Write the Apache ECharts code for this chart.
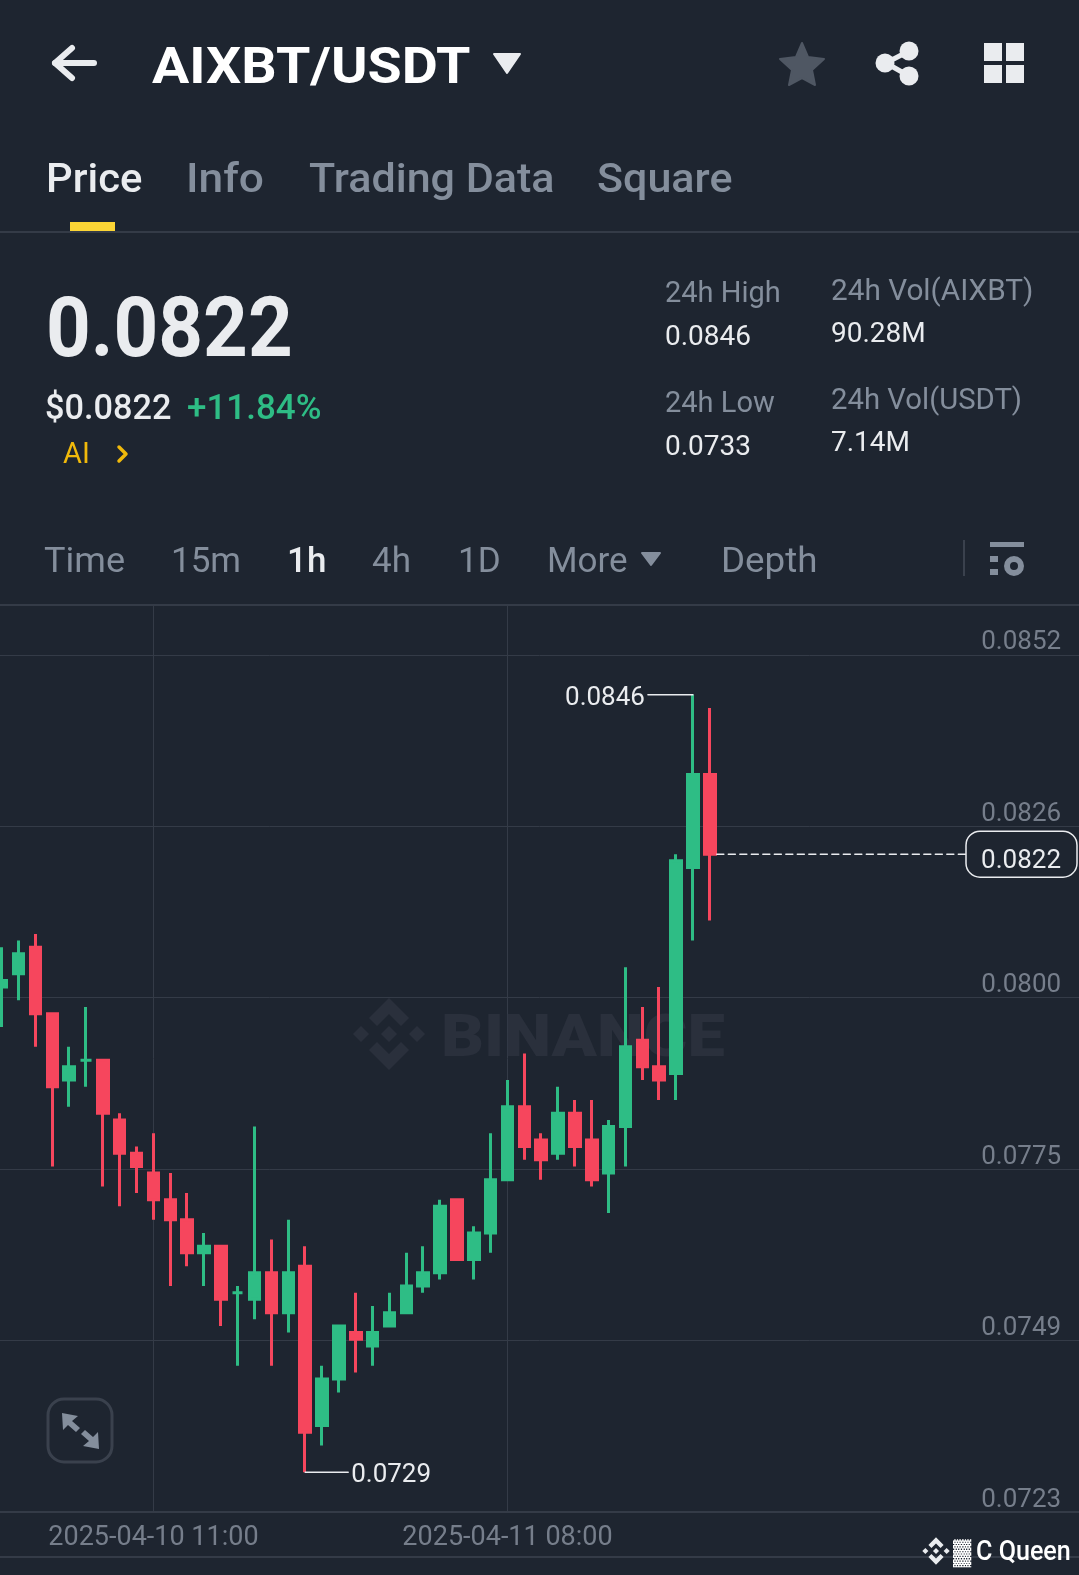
<!DOCTYPE html>
<html>
<head>
<meta charset="utf-8">
<title>AIXBT/USDT</title>
<style type="text/css">
    *{ margin:0; padding:0; }
    html,body{ width:1079px; height:1575px; background:#1e2530; overflow:hidden; }
    #main{ width:1079px; height:1575px; }
</style>
</head>
<body>
<div id="main"></div>
<script src="https://cdn.jsdelivr.net/npm/echarts@6/dist/echarts.min.js"></script>
<script type="text/javascript">
    // hourly candles, 4 decimal prices
    var categories = [
        '2025-04-10 02:00','2025-04-10 03:00','2025-04-10 04:00','2025-04-10 05:00','2025-04-10 06:00',
        '2025-04-10 07:00','2025-04-10 08:00','2025-04-10 09:00','2025-04-10 10:00','2025-04-10 11:00',
        '2025-04-10 12:00','2025-04-10 13:00','2025-04-10 14:00','2025-04-10 15:00','2025-04-10 16:00',
        '2025-04-10 17:00','2025-04-10 18:00','2025-04-10 19:00','2025-04-10 20:00','2025-04-10 21:00',
        '2025-04-10 22:00','2025-04-10 23:00','2025-04-11 00:00','2025-04-11 01:00','2025-04-11 02:00',
        '2025-04-11 03:00','2025-04-11 04:00','2025-04-11 05:00','2025-04-11 06:00','2025-04-11 07:00',
        '2025-04-11 08:00','2025-04-11 09:00','2025-04-11 10:00','2025-04-11 11:00','2025-04-11 12:00',
        '2025-04-11 13:00','2025-04-11 14:00','2025-04-11 15:00','2025-04-11 16:00','2025-04-11 17:00',
        '2025-04-11 18:00','2025-04-11 19:00','2025-04-11 20:00'
    ];
    var opens = [0.0802,0.0804,0.0808,0.0798,0.0788,0.0791,0.0791,0.0782,0.0777,0.0774,0.0770,0.0767,0.0762,0.0763,0.0756,
        0.0755,0.0759,0.0753,0.0760,0.0736,0.0743,0.0750,0.0748,0.0751,0.0753,0.0757,0.0759,0.0770,0.0761,0.0765,
        0.0773,0.0784,0.0779,0.0777,0.0783,0.0779,0.0774,0.0781,0.0794,0.0790,0.0789,0.0820,0.0834];
    var closes = [0.0803,0.0807,0.0798,0.0787,0.0790,0.0791,0.0783,0.0777,0.0775,0.0770,0.0767,0.0762,0.0763,0.0755,0.0756,
        0.0759,0.0753,0.0759,0.0735,0.0743,0.0751,0.0749,0.0750,0.0753,0.0757,0.0759,0.0769,0.0761,0.0765,0.0773,
        0.0784,0.0778,0.0776,0.0783,0.0778,0.0773,0.0781,0.0793,0.0790,0.0788,0.0821,0.0834,0.0822];
    var lows = [0.0796,0.0800,0.0793,0.0775,0.0784,0.0787,0.0772,0.0769,0.0771,0.0767,0.0757,0.0760,0.0757,0.0751,0.0745,
        0.0752,0.0745,0.0750,0.0729,0.0733,0.0741,0.0744,0.0745,0.0751,0.0753,0.0756,0.0758,0.0761,0.0758,0.0762,
        0.0773,0.0776,0.0773,0.0776,0.0775,0.0772,0.0768,0.0775,0.0788,0.0785,0.0785,0.0809,0.0812];
    var highs = [0.0808,0.0809,0.0810,0.0798,0.0793,0.0799,0.0791,0.0783,0.0778,0.0780,0.0774,0.0771,0.0765,0.0763,0.0757,
        0.0781,0.0764,0.0767,0.0763,0.0745,0.0751,0.0756,0.0754,0.0756,0.0762,0.0763,0.0770,0.0770,0.0766,0.0780,
        0.0788,0.0792,0.0780,0.0787,0.0785,0.0785,0.0782,0.0805,0.0799,0.0802,0.0822,0.0846,0.0844];
    var yTicks = [0.0723,0.07488,0.07746,0.08004,0.08262,0.0852];
    var xLabelIndex = [9,30];
    var lastPrice = 0.0822, highPrice = 0.0846, lowPrice = 0.0729;
    var highIndex = 41, lowIndex = 18, lastIndex = 42;

    var slots = categories.slice();
    while(slots.length < 65){ slots.push(''); }

    var candles = [];
    for(var i = 0; i < opens.length; i++){
        candles.push([opens[i], closes[i], lows[i], highs[i]]);
    }

    var BG = '#1e2530', GRID = '#343b47', GREY = '#848e9c', TICK = '#767e8b', WHITE = '#eaecef',
        GREEN = '#2ebd85', RED = '#f6465d', YELLOW = '#fcd535';
    var FONT = 'Roboto, sans-serif';

    function txt(s, x, base, size, color, weight, sx, align){
        return {
            type:'text', x:x, y:base - size*0.25, scaleX:sx||1, silent:true, z:10,
            style:{ text:s, fill:color, font:(weight||400)+' '+size+'px '+FONT,
                    textAlign:align||'left', textVerticalAlign:'middle' }
        };
    }
    function poly(points, fill, z){
        return { type:'polygon', silent:true, z:z||10, shape:{points:points}, style:{fill:fill} };
    }
    function stroke(points, color, w, z, dash){
        return { type:'polyline', silent:true, z:z||10, shape:{points:points},
                 style:{stroke:color, lineWidth:w, fill:'none', lineCap:'round', lineJoin:'round', lineDash:dash||null} };
    }
    function box(x, y, w, h, fill, r){
        return { type:'rect', silent:true, z:10, shape:{x:x,y:y,width:w,height:h,r:r||0}, style:{fill:fill} };
    }
    // binance diamond mark
    function logo(cx, cy, s, color, z){
        var shapes = [
            [[0,-8],[8,0],[0,8],[-8,0]],
            [[-36,0],[-28,-8],[-20,0],[-28,8]],
            [[36,0],[28,-8],[20,0],[28,8]],
            [[0,-36],[20,-16],[12,-8],[0,-20],[-12,-8],[-20,-16]],
            [[0,36],[20,16],[12,8],[0,20],[-12,8],[-20,16]]
        ];
        return shapes.map(function(p){
            return poly(p.map(function(q){ return [cx+q[0]*s, cy+q[1]*s]; }), color, z);
        });
    }

    var ui = [
        // header
        stroke([[94,63],[55,63]], WHITE, 6),
        stroke([[72,48],[55,63],[72,78]], WHITE, 6),
        txt('AIXBT/USDT', 152, 83, 50, '#ffffff', 700, 1.11),
        { type:'polygon', silent:true, z:10, shape:{points:[[494,54],[520,54],[507,73]]}, style:{fill:WHITE, stroke:WHITE, lineWidth:2, lineJoin:'round'} },
        { type:'polygon', silent:true, z:10, shape:{points:[[802,43],[808,57],[824,59],[812,70],[815,85],[802,78],[789,85],[792,70],[780,59],[796,57]]}, style:{fill:'#4f5763', stroke:'#4f5763', lineWidth:2, lineJoin:'round'} },
        stroke([[909,51],[886,63],[909,76]], WHITE, 5),
        { type:'circle', silent:true, z:10, shape:{cx:909,cy:51,r:9.5}, style:{fill:WHITE} },
        { type:'circle', silent:true, z:10, shape:{cx:885,cy:63,r:9.5}, style:{fill:WHITE} },
        { type:'circle', silent:true, z:10, shape:{cx:909,cy:76,r:9.5}, style:{fill:WHITE} },
        box(984,43,18,18,WHITE), box(1006,43,18,18,WHITE), box(984,65,18,18,WHITE), box(1006,65,18,18,WHITE),
        // tabs
        txt('Price', 46, 192, 41, WHITE, 500, 1.02),
        txt('Info', 186, 192, 41, GREY, 500, 1.08),
        txt('Trading Data', 309, 192, 41, GREY, 500, 1.05),
        txt('Square', 597, 192, 41, GREY, 500, 1.05),
        box(70,222,45,9,YELLOW),
        box(0,231,1079,2,GRID),
        // price block
        txt('0.0822', 46, 356, 84, WHITE, 700, 0.93),
        txt('$0.0822', 45, 419, 35, WHITE, 500, 0.98),
        txt('+11.84%', 187, 419, 35, GREEN, 500),
        txt('AI', 63, 463, 29, '#f0b90b', 400),
        stroke([[119,447],[126,454],[119,461]], '#f0b90b', 3.5),
        txt('24h High', 665, 302, 29, GREY),
        txt('0.0846', 665, 345, 28, WHITE),
        txt('24h Low', 665, 412, 29, GREY),
        txt('0.0733', 665, 455, 28, WHITE),
        txt('24h Vol(AIXBT)', 831, 300, 29, GREY, 400, 1.025),
        txt('90.28M', 831, 342, 28, WHITE),
        txt('24h Vol(USDT)', 831, 409, 29, GREY, 400, 1.01),
        txt('7.14M', 831, 451, 28, WHITE),
        // timeframe row
        txt('Time', 44, 572, 35, GREY, 400, 1.03),
        txt('15m', 171, 572, 35, GREY),
        txt('1h', 287, 572, 35, WHITE, 500),
        txt('4h', 372, 572, 35, GREY),
        txt('1D', 458, 572, 35, GREY),
        txt('More', 547, 572, 35, GREY),
        { type:'polygon', silent:true, z:10, shape:{points:[[642,553],[660,553],[651,565]]}, style:{fill:GREY, stroke:GREY, lineWidth:2, lineJoin:'round'} },
        txt('Depth', 721, 572, 35, GREY, 400, 1.05),
        box(963,540,2,36,'#3a414d'),
        box(990,542,34,5,GREY), box(990,556,8,6,GREY), box(990,569,8,6,GREY),
        { type:'circle', silent:true, z:10, shape:{cx:1014,cy:566,r:7}, style:{fill:'none', stroke:GREY, lineWidth:6} },
        box(0,604,1079,2,GRID),
        box(0,1556,1079,2,GRID),
        // expand button
        { type:'rect', silent:true, z:10, shape:{x:48,y:1399,width:64,height:63,r:16}, style:{fill:'none', stroke:'#3a414d', lineWidth:3} },
        poly([[62,1413],[78,1416],[72,1421],[80,1428],[76,1432],[68,1425],[63,1430]], GREY),
        poly([[99,1449],[83,1446],[89,1441],[81,1434],[85,1430],[93,1437],[98,1432]], GREY),
        // watermark on top of the picture
        txt('C Queen', 976, 1560, 27, '#ffffff', 500, 0.93),
        txt('\u2593', 953, 1560, 25, '#ffffff', 400)
    ];
    ui = ui.concat(logo(936, 1551, 0.38, WHITE));
    // big watermark, under the candles
    ui = ui.concat(logo(389, 1034, 1, '#2a303c', 1));
    ui.push({ type:'text', silent:true, z:1, x:441, y:1041, scaleX:1.13,
        style:{ text:'BINANCE', fill:'#2a303c', font:'900 59px '+FONT, textVerticalAlign:'middle' } });

    var myChart = echarts.init(document.getElementById('main'));

    function isLabelled(index){ return xLabelIndex.indexOf(index) >= 0; }

    var option = {
        backgroundColor:BG,
        animation:false,
        grid:{ left:-6.73, top:605, width:1095.9, height:907, outerBoundsMode:'none' },
        xAxis:{
            type:'category',
            data:slots,
            boundaryGap:true,
            axisLine:{ lineStyle:{ color:GRID, width:2 } },
            axisTick:{ show:false },
            axisLabel:{ interval:function(index){ return isLabelled(index); }, color:TICK, fontFamily:FONT, fontSize:27, margin:13 },
            splitLine:{ show:true, alignWithLabel:true, interval:function(index){ return isLabelled(index); }, lineStyle:{ color:GRID, width:1 } }
        },
        yAxis:{
            type:'value',
            position:'right',
            min:0.0723,
            max:0.08595,
            axisLine:{ show:false },
            axisTick:{ show:false, customValues:yTicks },
            axisLabel:{
                inside:true,
                customValues:yTicks,
                margin:28,
                color:TICK,
                fontFamily:FONT,
                fontSize:26,
                verticalAlign:'bottom',
                lineHeight:24,
                formatter:function(v){ return v.toFixed(4); }
            },
            splitLine:{ show:true, lineStyle:{ color:GRID, width:1 } }
        },
        series:[{
            type:'candlestick',
            data:candles,
            barWidth:11,
            itemStyle:{
                color:GREEN, color0:RED,
                borderColor:GREEN, borderColor0:RED, borderColorDoji:GREEN,
                borderWidth:3
            }
        }],
        graphic:ui
    };
    myChart.setOption(option);

    // callouts follow the price scale
    var px = function(i){ return myChart.convertToPixel({xAxisIndex:0}, i); };
    var py = function(v){ return myChart.convertToPixel({yAxisIndex:0}, v); };
    var hx = px(highIndex), hy = py(highPrice), lx = px(lowIndex), ly = py(lowPrice), cx = px(lastIndex), cy = py(lastPrice);
    var callouts = [
        stroke([[hx,hy],[hx-45,hy]], WHITE, 1.5),
        txt(highPrice.toFixed(4), hx-48, hy+10, 26, WHITE, 400, 1, 'right'),
        stroke([[lx,ly],[lx+43,ly]], WHITE, 1.5),
        txt(lowPrice.toFixed(4), lx+46, ly+10, 26, WHITE, 400, 1, 'left'),
        stroke([[cx+7,cy],[966,cy]], WHITE, 1.5, 10, [7,4.5]),
        { type:'rect', silent:true, z:11, shape:{x:966,y:cy-23,width:111,height:46,r:14}, style:{fill:BG, stroke:WHITE, lineWidth:1.5} },
        { type:'text', silent:true, z:12, x:1061, y:cy+7, style:{ text:lastPrice.toFixed(4), fill:WHITE, font:'400 26px '+FONT, textAlign:'right', textVerticalAlign:'middle' } }
    ];
    myChart.setOption({ graphic:ui.concat(callouts) });
</script>
</body>
</html>
